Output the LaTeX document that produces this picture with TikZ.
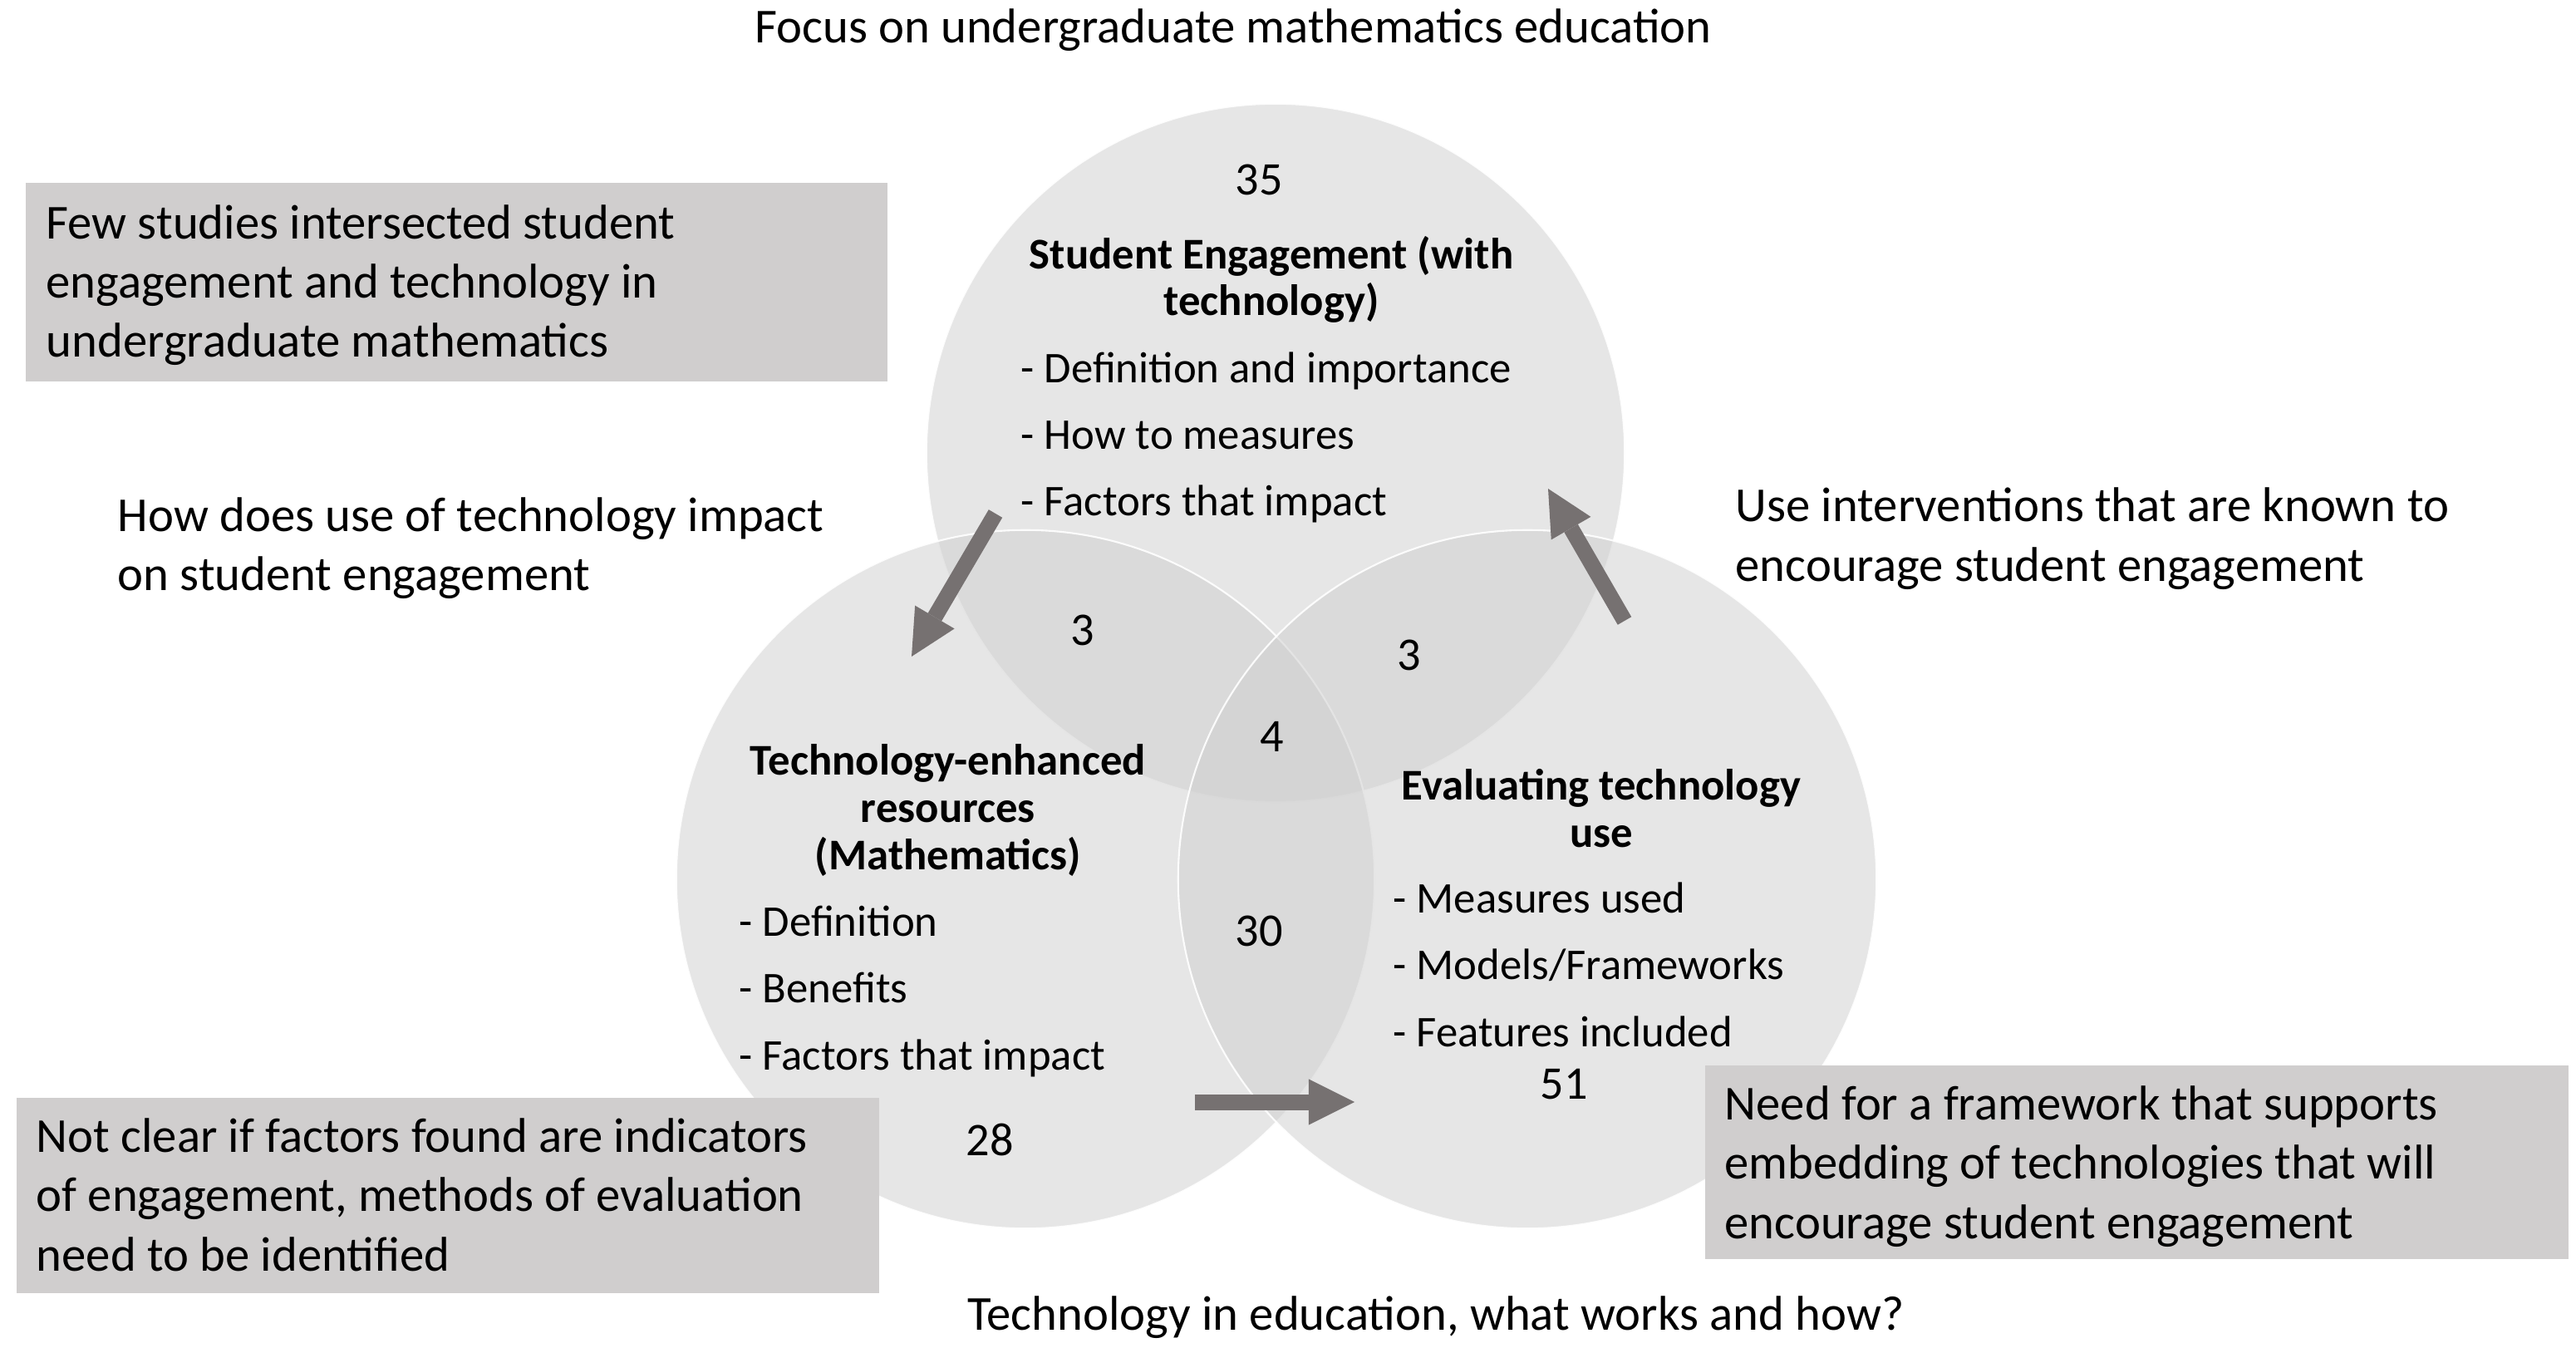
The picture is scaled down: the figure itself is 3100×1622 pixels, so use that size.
\documentclass[tikz,border=0pt]{standalone}
\usepackage{fontspec}
\setmainfont{Carlito}
\usetikzlibrary{arrows.meta}
\definecolor{boxgray}{RGB}{208,206,206}
\definecolor{arrowgray}{RGB}{118,113,113}
\definecolor{circgray}{RGB}{207,207,207}
\begin{document}
\begin{tikzpicture}[x=0.01cm,y=-0.01cm,
  venn/.style={circle, minimum size=8.4cm, inner sep=0pt, outer sep=0pt, fill=circgray, fill opacity=0.52, draw=white, draw opacity=0.9, line width=0.6pt},
  notebox/.style={fill=boxgray, draw=none, inner sep=0pt, outer sep=0pt, anchor=north west},
  outtext/.style={font=\fontsize{16.7pt}{20.2pt}\selectfont, inner sep=0pt, align=left, anchor=base west},
  ctitle/.style={font=\fontsize{15pt}{16.2pt}\selectfont\bfseries, inner sep=0pt, align=center, anchor=base},
  citem/.style={font=\fontsize{15pt}{22.8pt}\selectfont, inner sep=0pt, align=left, anchor=base west},
  cnum/.style={font=\fontsize{16pt}{19pt}\selectfont, inner sep=0pt, anchor=base},
  bigarrow/.style={draw=arrowgray, line width=0.19cm, -{Triangle[width=0.55cm,length=0.55cm,line width=0pt]}}
]
\useasboundingbox (0,0) rectangle (3100,1622);

% circles
\node[venn] (cTop) at (1535,545) {};
\node[venn] (cLeft) at (1234,1058) {};
\node[venn] (cRight) at (1838,1058) {};

% grey boxes
\node[notebox, minimum width=10.36cm, minimum height=2.39cm] (box1) at (31,220) {};
\node[notebox, minimum width=10.37cm, minimum height=2.35cm] (box2) at (20,1321) {};
\node[notebox, minimum width=10.38cm, minimum height=2.33cm] (box3) at (2052,1282) {};

% arrows
\coordinate (a1s) at (1198,618);
\coordinate (a1e) at (1097,790);
\coordinate (a2s) at (1955,747);
\coordinate (a2e) at (1863,588);
\coordinate (a3s) at (1438,1326);
\coordinate (a3e) at (1630,1326);
\draw[bigarrow] (a1s) -- (a1e);
\draw[bigarrow] (a2s) -- (a2e);
\draw[bigarrow] (a3s) -- (a3e);

% outer texts (multi-line nodes anchored at the baseline of their last line)
\node[outtext, anchor=base] (title) at (1484,52) {Focus on undergraduate mathematics education};
\node[outtext] (q1) at (55,430) {Few studies intersected student\\engagement and technology in\\undergraduate mathematics};
\node[outtext] (q2) at (141,711) {How does use of technology impact\\on student engagement};
\node[outtext] (q3) at (2088,699) {Use interventions that are known to\\encourage student engagement};
\node[outtext] (q4) at (43,1529) {Not clear if factors found are indicators\\of engagement, methods of evaluation\\need to be identified};
\node[outtext] (q5) at (2075,1490) {Need for a framework that supports\\embedding of technologies that will\\encourage student engagement};
\node[outtext, anchor=base] (bottom) at (1728,1600) {Technology in education, what works and how?};

% circle texts
\node[cnum] (n35) at (1515,235) {35};
\node[ctitle] (tTop) at (1530,380) {Student Engagement (with\\technology)};
\node[citem] (iTop) at (1228,621) {- Definition and importance\\- How to measures\\- Factors that impact};

\node[cnum] (n3a) at (1303,776) {3};
\node[cnum] (n3b) at (1696,806) {3};
\node[cnum] (n4) at (1531,904) {4};
\node[cnum] (n30) at (1515,1138) {30};

\node[ctitle] (tLeft) at (1141,1046) {Technology-enhanced\\resources\\(Mathematics)};
\node[citem] (iLeft) at (889,1287) {- Definition\\- Benefits\\- Factors that impact};
\node[cnum] (n28) at (1191,1390) {28};

\node[ctitle] (tRight) at (1927,1019) {Evaluating technology\\use};
\node[citem] (iRight) at (1676,1259) {- Measures used\\- Models/Frameworks\\- Features included};
\node[cnum] (n51) at (1882,1322) {51};
\end{tikzpicture}
\end{document}
